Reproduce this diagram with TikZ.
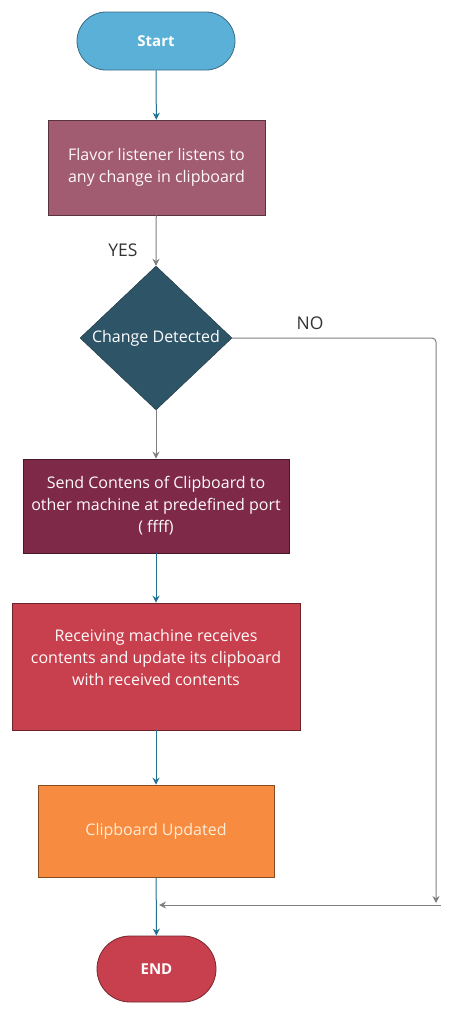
\documentclass[tikz,border=0pt]{standalone}
\usepackage{fontspec}
\setmainfont{Open Sans}
\usetikzlibrary{shapes.geometric, arrows.meta}

\definecolor{startblue}{HTML}{5BB0D8}
\definecolor{startline}{HTML}{2F7FA8}
\definecolor{listenrose}{HTML}{A15C72}
\definecolor{decslate}{HTML}{2E5468}
\definecolor{sendwine}{HTML}{7D2947}
\definecolor{recvred}{HTML}{C8404E}
\definecolor{updorange}{HTML}{F78B3F}
\definecolor{flowteal}{HTML}{1F7291}
\definecolor{flowgray}{HTML}{7F7F7F}

\begin{document}
\begin{tikzpicture}[x=1pt, y=-1pt,
    font=\fontsize{16}{22}\selectfont,
    terminal/.style={draw=#1!60!black, fill=#1, rounded corners=29pt, line width=0.8pt, text=white, font=\fontsize{15}{18}\selectfont\bfseries},
    procbox/.style={draw=#1!55!black, fill=#1, line width=0.6pt, align=center, inner sep=0pt},
    tealflow/.style={draw=flowteal, line width=1pt, -{Stealth[length=7pt, width=7pt]}},
    grayflow/.style={draw=flowgray, line width=1pt, -{Stealth[length=7pt, width=7pt]}},
    branchlabel/.style={font=\fontsize{17.5}{20}\selectfont, text=black!80}]
    \useasboundingbox (0,0) rectangle (474,1015);

    % Start
    \node[terminal=startblue, minimum width=158pt, minimum height=58pt] (start) at (156,41) {Start};

    % Listener
    \node[procbox=listenrose, minimum width=217pt, minimum height=95pt, text=white!90!pink] (listen) at (156.5,167.5) {Flavor listener listens to\\any change in clipboard};

    % Decision
    \node[draw=decslate!60!black, fill=decslate, diamond, minimum width=152pt, minimum height=144pt, inner sep=0pt] (dec) at (156,338) {};
    \node[text=white] at (dec) {Change Detected};

    % Send
    \node[procbox=sendwine, minimum width=266pt, minimum height=94pt, text=white!92!pink] (send) at (156,506) {Send Contens of Clipboard to\\other machine at predefined port\\( ffff)};

    % Receive
    \node[procbox=recvred, minimum width=288pt, minimum height=127pt, text=white!92!pink] (recv) at (156,666.5) {};
    \node[align=center, text=white!92!pink] at (156,657) {Receiving machine receives\\contents and update its clipboard\\with received contents};

    % Updated
    \node[procbox=updorange, minimum width=236pt, minimum height=92pt, text=orange!15!white] (upd) at (156,831) {Clipboard Updated};

    % End
    \node[terminal=recvred, minimum width=119pt, minimum height=66pt, rounded corners=33pt] (stop) at (156.5,969) {END};

    % Flow
    \draw[tealflow] (start) -- (listen);
    \draw[grayflow] (listen) -- (dec.north);
    \node[branchlabel] (yes) at (123,250) {YES};
    \draw[grayflow] (dec.south) -- (send);
    \draw[tealflow] (send) -- (recv);
    \draw[tealflow] (recv) -- (upd);
    \draw[tealflow] (upd) -- (stop);

    % No branch
    \coordinate (nodown) at (436,903);
    \coordinate (noback) at (441,905);
    \coordinate (nojoin) at (159,905);
    \draw[grayflow, rounded corners=4pt] (dec.east) -- (436,338) -- (nodown);
    \draw[grayflow] (noback) -- (nojoin);
    \node[branchlabel] (no) at (310,323) {NO};
\end{tikzpicture}
\end{document}
